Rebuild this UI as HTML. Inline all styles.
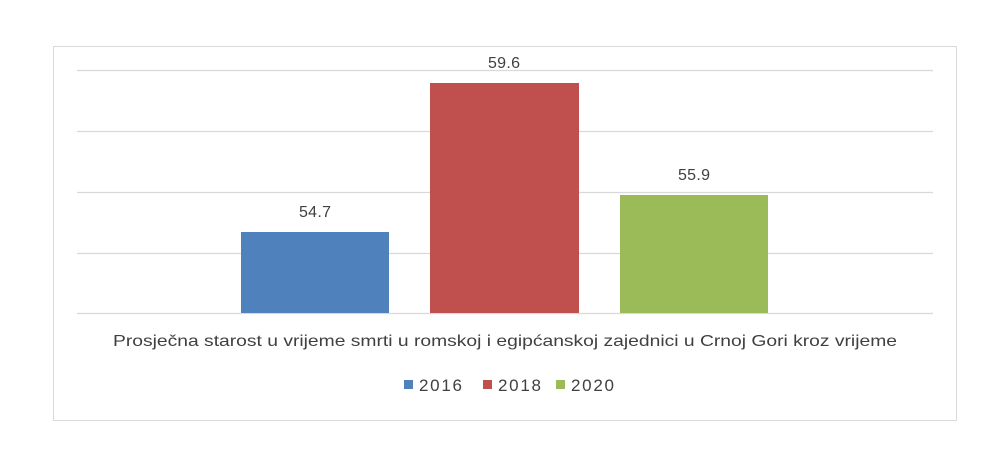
<!DOCTYPE html>
<html><head><meta charset="utf-8"><style>
body{margin:0;background:#fff;width:1000px;height:471px;overflow:hidden;font-family:"Liberation Sans",sans-serif;}
</style></head><body>
<svg width="1000" height="471" xmlns="http://www.w3.org/2000/svg">
<rect x="53.5" y="46.5" width="903" height="374" fill="#fff" stroke="#d9d9d9"/>
<g stroke="#d9d9d9" stroke-width="1.2">
<line x1="77" x2="933" y1="70.5" y2="70.5"/>
<line x1="77" x2="933" y1="131.5" y2="131.5"/>
<line x1="77" x2="933" y1="192.5" y2="192.5"/>
<line x1="77" x2="933" y1="253.5" y2="253.5"/>
<line x1="77" x2="933" y1="313.5" y2="313.5"/>
</g>
<rect x="241" y="232" width="148" height="81" fill="#4f81bd"/>
<rect x="430" y="83" width="149" height="230" fill="#c0504d"/>
<rect x="620" y="195" width="148" height="118" fill="#9bbb59"/>
<g font-size="16" fill="#404040" text-anchor="middle">
<text x="315" y="217" textLength="32">54.7</text>
<text x="504" y="68" textLength="32">59.6</text>
<text x="694" y="180" textLength="32">55.9</text>
</g>
<text x="113" y="346" font-size="16" fill="#404040" textLength="784" lengthAdjust="spacingAndGlyphs">Prosječna starost u vrijeme smrti u romskoj i egipćanskoj zajednici u Crnoj Gori  kroz vrijeme</text>
<g font-size="17" fill="#404040">
<rect x="404" y="380" width="9" height="9" fill="#4f81bd"/>
<text x="419" y="391" textLength="43">2016</text>
<rect x="483" y="380" width="9" height="9" fill="#c0504d"/>
<text x="498" y="391" textLength="43">2018</text>
<rect x="556" y="380" width="9" height="9" fill="#9bbb59"/>
<text x="571" y="391" textLength="43">2020</text>
</g>
</svg>
</body></html>
